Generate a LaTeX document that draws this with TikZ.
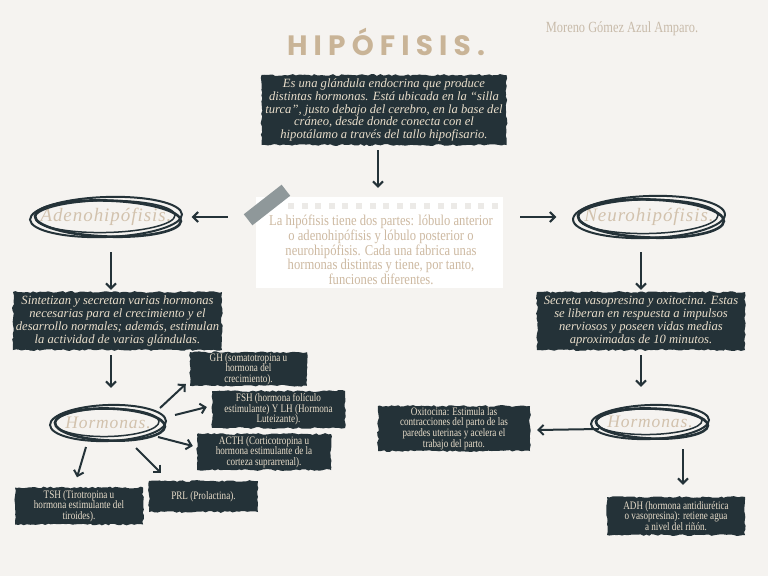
\documentclass[tikz,border=0pt]{standalone}
\usepackage{fontspec}
\setmainfont{Liberation Serif}
\newfontfamily\condf[FakeStretch=0.84]{Liberation Serif}
\newfontfamily\narrowf[FakeStretch=0.8]{Liberation Serif}
\newfontfamily\spacedf[LetterSpace=5]{Liberation Serif}
\newfontfamily\titlef[LetterSpace=22]{Poppins}
\usetikzlibrary{decorations.pathmorphing,arrows.meta}
\definecolor{bg}{HTML}{F5F3F0}
\definecolor{ink}{HTML}{243238}
\definecolor{cream}{HTML}{E9DECB}
\definecolor{beige}{HTML}{C9B497}
\definecolor{tapec}{HTML}{8F989A}
\definecolor{notetxt}{HTML}{CDB9A1}
\definecolor{ovaltxt}{HTML}{D2C2AD}
\definecolor{author}{HTML}{C8BBAA}
\definecolor{dots}{HTML}{ECEAE7}
\tikzset{
  dbox/.style={fill=ink, text=cream, align=center, inner sep=1pt,
    decorate, decoration={random steps, segment length=3pt, amplitude=0.9pt}},
  bigtxt/.style={font=\itshape\fontsize{12.6}{12.8}\selectfont},
  smalltxt/.style={font=\narrowf\fontsize{11.4}{10.6}\selectfont},
  arr/.style={draw=ink, line width=2pt, -{Straight Barb[length=5pt,width=10pt]}},
  scr/.style={draw=ink, line width=2pt},
  oval/.style={text=ovaltxt, inner sep=0pt, font=\spacedf\itshape\fontsize{19}{19}\selectfont},
}
\newcommand\scribble[3]{%
  \draw[scr, rotate around={2:(#1.center)}] (#1.center) ellipse [x radius=#2, y radius=#3];
  \draw[scr, line width=2.6pt, rotate around={-2:(#1.center)}] ([xshift=2pt,yshift=-1.5pt]#1.center) ellipse [x radius=#2-3, y radius=#3-2];
  \draw[scr, line width=1.5pt, rotate around={1:(#1.center)}] ([xshift=-1pt,yshift=0.5pt]#1.center) ellipse [x radius=#2-6, y radius=#3-4];
}
\begin{document}
\begin{tikzpicture}[x=1pt,y=-1pt]
\pgfmathsetseed{7}
\fill[bg] (0,0) rectangle (768,576);
\useasboundingbox (0,0) rectangle (768,576);

% title and author
\node[text=beige, font=\titlef\bfseries\fontsize{28}{28}\selectfont] (title) at (386,42) {HIPÓFISIS.};
\node[text=author, font=\narrowf\fontsize{15.5}{15}\selectfont] (auth) at (622,29) {Moreno Gómez Azul Amparo.};

% top box
\node[dbox, bigtxt, minimum width=245pt, minimum height=70pt] (top) at (384,110)
 {Es una glándula endocrina que produce\\distintas hormonas. Está ubicada en la “silla\\turca”, justo debajo del cerebro, en la base del\\cráneo, desde donde conecta con el\\hipotálamo a través del tallo hipofisario.};

% note
\node[fill=white, minimum width=247pt, minimum height=91pt, inner sep=0pt] (note) at (379.5,242.5) {};
\foreach \i in {0,...,15} \fill[dots] (288+13.6*\i,203) rectangle ++(6,6);
\node[fill=tapec, minimum width=48pt, minimum height=14pt, inner sep=0pt, rotate=38] (tape) at (267,205) {};
\node[text=notetxt, align=center, font=\condf\fontsize{15}{14.6}\selectfont] (notetext) at (381,250)
 {La hipófisis tiene dos partes: lóbulo anterior\\o adenohipófisis y lóbulo posterior o\\neurohipófisis. Cada una fabrica unas\\hormonas distintas y tiene, por tanto,\\funciones diferentes.};

% ovals
\node[oval, minimum width=145pt, minimum height=40pt] (adeno) at (106,217) {Adenohipófisis.};
\scribble{adeno}{76}{20}
\node[oval, minimum width=145pt, minimum height=40pt] (neuro) at (649,217) {Neurohipófisis.};
\scribble{neuro}{76}{21}
\node[oval, font=\spacedf\itshape\fontsize{17.5}{17}\selectfont, minimum width=120pt, minimum height=35pt] (lhorm) at (108,423) {Hormonas.};
\scribble{lhorm}{58}{18}
\node[oval, font=\spacedf\itshape\fontsize{17.5}{17}\selectfont, minimum width=120pt, minimum height=35pt] (rhorm) at (650,422) {Hormonas.};
\scribble{rhorm}{59}{17}

% description boxes
\node[dbox, bigtxt, minimum width=209pt, minimum height=58pt] (lbox) at (117.5,321)
 {Sintetizan y secretan varias hormonas\\necesarias para el crecimiento y el\\desarrollo normales; además, estimulan\\la actividad de varias glándulas.};
\node[dbox, bigtxt, minimum width=208pt, minimum height=58pt] (rbox) at (641,321)
 {Secreta vasopresina y oxitocina. Estas\\se liberan en respuesta a impulsos\\nerviosos y poseen vidas medias\\aproximadas de 10 minutos.};

% hormone boxes
\node[dbox, smalltxt, minimum width=117pt, minimum height=33pt] (gh) at (248.5,369) {GH (somatotropina u\\hormona del\\crecimiento).};
\node[dbox, smalltxt, minimum width=133pt, minimum height=37pt] (fsh) at (278.5,409.5) {FSH (hormona folículo\\estimulante) Y LH (Hormona\\Luteizante).};
\node[dbox, smalltxt, minimum width=134pt, minimum height=36pt] (acth) at (264,452) {ACTH (Corticotropina u\\hormona estimulante de la\\corteza suprarrenal).};
\node[dbox, smalltxt, minimum width=128pt, minimum height=37pt] (tsh) at (79,506) {TSH (Tirotropina u\\hormona estimulante del\\tiroides).};
\node[dbox, smalltxt, minimum width=109pt, minimum height=31pt] (prl) at (203.5,496.5) {PRL (Prolactina).};
\node[dbox, smalltxt, minimum width=152pt, minimum height=45pt] (oxi) at (454,428.5) {Oxitocina: Estimula las\\contracciones del parto de las\\paredes uterinas y acelera el\\trabajo del parto.};
\node[dbox, smalltxt, minimum width=138pt, minimum height=38pt] (adh) at (676,516) {ADH (hormona antidiurética\\o vasopresina): retiene agua\\a nivel del riñón.};

% connectors
\draw[arr] ([xshift=-6pt,yshift=-5pt]top.south) -- ([xshift=-1.5pt,yshift=9pt]note.north);
\draw[arr, shorten <=28pt, shorten >=13pt] (note.west |- adeno.east) -- (adeno.east);
\draw[arr, shorten <=17pt, shorten >=20pt] (note.east |- neuro.west) -- (neuro.west);
\draw[arr] ([xshift=5pt,yshift=-15pt]adeno.south) -- ([xshift=-6.5pt,yshift=2pt]lbox.north);
\draw[arr] ([xshift=-6.5pt,yshift=-5pt]lbox.south) -- ([xshift=3pt,yshift=17.5pt]lhorm.north);
\draw[arr] ([xshift=-8pt,yshift=-15pt]neuro.south) -- ([yshift=2pt]rbox.north);
\draw[arr] ([yshift=-5pt]rbox.south) -- ([xshift=-9pt,yshift=17.5pt]rhorm.north);
\draw[arr] ([xshift=9pt,yshift=-7pt]rhorm.west) -- ([xshift=7pt,yshift=-1.5pt]oxi.east);
\draw[arr] ([xshift=33pt,yshift=-9.5pt]rhorm.south) -- ([xshift=7pt,yshift=12pt]adh.north);
\draw[arr] ([xshift=52pt,yshift=15pt]lhorm.center) -- ([xshift=-4pt,yshift=2pt]gh.south west);
\draw[arr] ([xshift=67pt,yshift=8pt]lhorm.center) -- ([xshift=-5pt,yshift=2.5pt]fsh.west);
\draw[arr] ([xshift=50pt,yshift=-14pt]lhorm.center) -- ([xshift=-4pt,yshift=6pt]acth.west);
\draw[arr] ([xshift=-22pt,yshift=-24pt]lhorm.center) -- ([xshift=-2pt,yshift=10pt]tsh.north);
\draw[arr] ([xshift=28pt,yshift=-25pt]lhorm.center) -- ([xshift=12pt,yshift=8pt]prl.north west);
\end{tikzpicture}
\end{document}
